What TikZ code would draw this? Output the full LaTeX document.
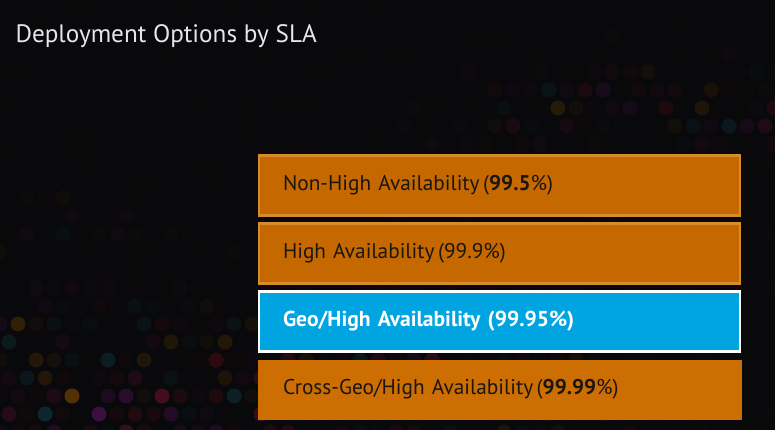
\documentclass[tikz,border=0pt]{standalone}
\usepackage{fontspec}
\setmainfont{PT Sans}
\usepackage{tikz}
\usetikzlibrary{positioning}

\definecolor{bgdark}{HTML}{09090B}
\definecolor{titlegray}{HTML}{E4E6EA}
\definecolor{slaorange}{HTML}{C66800}
\definecolor{slaorangelight}{HTML}{CC6E02}
\definecolor{slagold}{HTML}{D48C2C}
\definecolor{slablue}{HTML}{00A4E0}
\definecolor{slatext}{HTML}{1A1612}
\definecolor{tex0}{HTML}{8A1238}
\definecolor{tex1}{HTML}{6A1470}
\definecolor{tex2}{HTML}{8A5200}
\definecolor{tex3}{HTML}{104A58}
\definecolor{tex4}{HTML}{701018}

\tikzset{
	slabox/.style={
			rectangle, minimum width=481pt, minimum height=60pt,
			text width=433pt, align=left, line width=2.5pt,
			font=\fontsize{21.3}{25}\selectfont
		},
	slaplain/.style={slabox, fill=slaorange, draw=slagold, text=slatext},
	slaactive/.style={slabox, fill=slablue, draw=white, text=white, font=\fontsize{21.6}{25}\selectfont\bfseries}
}

\begin{document}
\begin{tikzpicture}[x=1pt, y=1pt, node distance=68pt]
    % background
    \fill[bgdark] (0,0) rectangle (775,-430);
    \useasboundingbox (0,0) rectangle (775,-430);
    \pgfmathsetseed{11}
    \foreach \i in {0,...,43}{
        \foreach \j in {0,...,24}{
            \pgfmathsetmacro{\px}{\i*18+mod(\j,2)*9}
            \pgfmathsetmacro{\py}{\j*18}
            \pgfmathsetmacro{\wa}{max(0,min(1,(\py-270)/120))*max(0,min(1,1-\px/760))}
            \pgfmathsetmacro{\wb}{max(0,1-abs(\py-110)/60)*max(0,min(1,(\px-380)/200))}
            \pgfmathsetmacro{\wc}{max(0,1-abs(\py-230)/50)*max(0,min(1,1-\px/260))}
            \pgfmathsetmacro{\o}{(0.42*\wa+0.2*\wb+0.16*\wc+0.015)*rnd*rnd*1.6}
            \pgfmathrandominteger{\c}{0}{4}
            \fill[tex\c, opacity=\o] (\px,-\py) circle (7.5);
        }
    }

    \node (title) [anchor=base west, text=titlegray, font=\fontsize{25.2}{30}\selectfont] at (12,-43) {Deployment Options by SLA};

    \node (nonha) [slaplain] at (499.5,-185.5) {Non-High Availability\,(\textbf{99.5}\%)};
    \node (ha) [slaplain, below of=nonha] {High Availability\,(99.9\%)};
    \node (geo) [slaactive, below of=ha] {Geo/High Availability (99.95\%)};
    \node (crossgeo) [slaplain, below of=geo, fill=slaorangelight, draw=none, minimum width=484pt, minimum height=60pt] {Cross-Geo/High Availability\,(\textbf{99.99}\%)};
\end{tikzpicture}
\end{document}
